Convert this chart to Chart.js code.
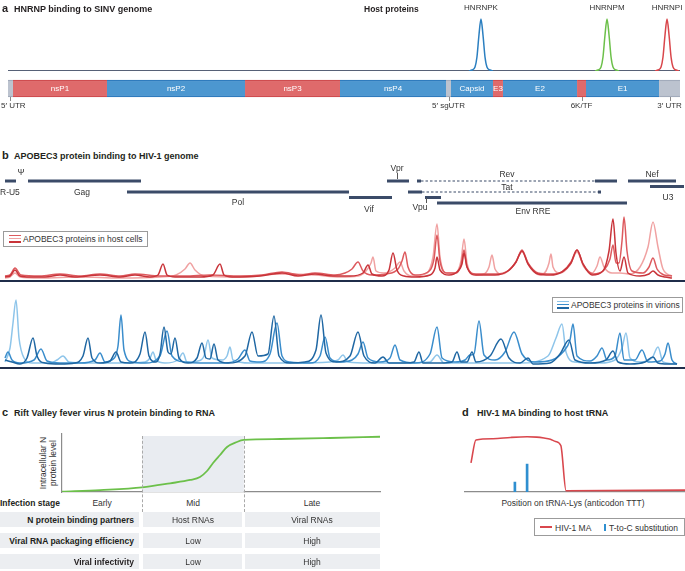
<!DOCTYPE html>
<html>
<head>
<meta charset="utf-8">
<script src="https://cdn.jsdelivr.net/npm/chart.js@4.4.0/dist/chart.umd.min.js"></script>
<style>
  body { margin: 0; background: #fff; }
  #page { position: relative; width: 685px; height: 571px; overflow: hidden;
          font-family: "Liberation Sans", Arial, Helvetica, sans-serif; color: #231f20; }
  canvas { position: absolute; }
  .t { position: absolute; white-space: nowrap; font-size: 8.5px; line-height: 1; color: #333; }
  .b { font-weight: bold; color: #231f20; }
  .h { font-weight: bold; font-size: 9px; color: #231f20; }
  .p { font-weight: bold; font-size: 11px; color: #231f20; }
  .box { position: absolute; background: #eceef1; }
  .leg { position: absolute; border: 1px solid #9b9b9b; background: #fff; box-sizing: border-box; }
  .dash { position: absolute; width: 0; border-left: 1px dashed #a9a9a9; }
</style>
</head>
<body>
<div id="page">
  <canvas id="aPeaks" width="685" height="73" style="left:0px;top:0px"></canvas>
  <canvas id="aGenome" width="685" height="34" style="left:0px;top:78px"></canvas>
  <canvas id="bGenes" width="685" height="40" style="left:0px;top:170px"></canvas>
  <canvas id="bHost" width="685" height="72" style="left:0px;top:212px"></canvas>
  <canvas id="bVirion" width="685" height="75" style="left:0px;top:296px"></canvas>
  <canvas id="cCurve" width="326" height="65" style="left:58px;top:430px"></canvas>
  <canvas id="dTrna" width="221" height="66" style="left:464px;top:428px"></canvas>
</div>
<script>
// ---------- data: panel a (SINV genome, positions in nt) ----------
const sinvSegments = ["5′ UTR", "nsP1", "nsP2", "nsP3", "nsP4", "5′ sgUTR", "Capsid", "E3", "E2", "6K/TF", "E1", "3′ UTR"];
const sinvStart = [0, 87, 1724, 4128, 5782, 7628, 7715, 8446, 8620, 9910, 10066, 11338];
const sinvEnd = [87, 1724, 4128, 5782, 7628, 7715, 8446, 8620, 9910, 10066, 11338, 11703];

const hnrnpNames = ["HNRNPK", "HNRNPM", "HNRNPI"];
const hnrnpkPos = [8028, 8080, 8133, 8167, 8202, 8237, 8272, 8307, 8341, 8394, 8446];
const hnrnpmPos = [10223, 10275, 10328, 10362, 10397, 10432, 10467, 10502, 10536, 10589, 10641];
const hnrnpiPos = [11268, 11320, 11373, 11407, 11442, 11477, 11512, 11547, 11581, 11634, 11686];
const hnrnpSignal = [0, 1, 4, 14, 36, 52, 36, 14, 4, 1, 0];

// ---------- data: panel b (HIV-1 genome, positions in bins) ----------
const exonGene = ["R-U5", "Gag", "Pol", "Vif", "Vpr", "Rev", "Rev", "Tat", "Tat", "Vpu", "Env", "Nef", "U3"];
const exonStart = [5, 28, 127, 349, 387, 417, 595, 408, 598, 425, 437, 628, 650];
const exonEnd = [16, 141, 349, 392, 409, 421, 617, 422, 601, 441, 627, 676, 684];
const exonRow = [0, 0, 2, 3, 0, 0, 0, 2, 2, 3, 4, 0, 1];
const intronGene = ["Rev", "Tat"];
const intronStart = [421, 422];
const intronEnd = [595, 598];
const intronRow = [0, 2];

const hostDark = [[5,4],[10,5],[15,11],[20,5],[30,4],[45,4],[60,6],[75,4],[100,6],[120,4],[135,6],[150,4],[158,6],[163,17],[167,6],[175,4],[200,4],[213,6],[220,17],[224,6],[232,4],[260,5],[282,8],[298,5],[315,7],[333,5],[350,5],[363,8],[368,16],[372,7],[382,5],[389,11],[393,28],[397,11],[404,5],[415,4],[430,6],[435,13],[437,24],[440,11],[449,6],[458,10],[462,17],[464,28],[467,14],[476,6],[495,6],[508,10],[516,19],[522,30],[528,17],[538,7],[550,6],[562,9],[571,18],[577,31],[583,17],[592,6],[603,10],[609,30],[613,62],[616,28],[620,10],[624,24],[628,8],[640,5],[649,7],[653,10],[658,6],[665,4],[672,3]];
const hostMid = [[5,5],[10,6],[15,13],[21,6],[40,5],[60,7],[80,5],[100,7],[120,5],[135,7],[160,5],[185,5],[210,6],[240,5],[262,6],[282,9],[300,6],[315,8],[335,6],[345,8],[352,12],[358,19],[363,10],[372,6],[386,7],[398,12],[402,20],[405,29],[408,14],[415,6],[428,9],[434,22],[437,46],[440,20],[447,8],[456,8],[461,16],[464,31],[467,14],[476,7],[496,7],[509,11],[516,19],[522,31],[528,18],[538,8],[552,7],[563,10],[571,19],[577,31],[583,17],[593,7],[604,11],[610,22],[613,36],[616,18],[619,18],[622,40],[624,64],[627,30],[632,10],[643,8],[649,14],[653,23],[657,12],[664,6],[672,5]];
const hostLight = [[5,3],[10,4],[15,8],[20,4],[40,3],[80,4],[120,3],[160,4],[176,6],[185,12],[190,18],[195,11],[205,5],[240,4],[282,7],[315,6],[340,4],[358,5],[366,10],[371,18],[373,24],[376,10],[384,8],[395,13],[400,19],[404,10],[412,5],[427,8],[433,24],[437,57],[440,24],[446,8],[455,8],[461,20],[464,42],[467,18],[474,6],[484,7],[489,14],[492,26],[495,12],[502,7],[514,16],[522,29],[530,14],[540,6],[546,10],[549,18],[551,27],[553,14],[560,8],[570,16],[577,29],[584,14],[592,8],[597,15],[600,24],[604,14],[612,8],[620,8],[630,7],[640,14],[648,34],[653,59],[658,34],[663,12],[672,5]];

const virionDark = [[5,8],[12,6],[20,4],[27,10],[33,30],[37,12],[45,5],[60,4],[75,5],[83,12],[88,30],[92,10],[100,5],[110,7],[116,16],[121,6],[130,5],[140,14],[145,36],[149,12],[156,6],[160,14],[164,41],[168,16],[171,14],[175,30],[179,10],[188,5],[197,10],[202,25],[206,10],[210,9],[214,24],[218,8],[228,5],[245,12],[252,36],[258,12],[268,14],[274,52],[279,12],[290,5],[305,6],[316,18],[321,53],[326,15],[336,6],[350,12],[358,36],[364,12],[375,5],[383,11],[389,5],[405,5],[414,6],[419,16],[423,5],[440,5],[452,6],[457,16],[461,6],[467,6],[472,16],[476,6],[490,12],[501,29],[509,10],[520,5],[528,10],[533,4],[550,5],[560,14],[569,28],[575,8],[590,5],[606,8],[613,17],[618,6],[630,4],[645,6],[653,11],[658,5],[668,4],[677,4]];
const virionMid = [[5,10],[8,16],[12,8],[20,5],[34,8],[41,19],[47,7],[60,5],[80,5],[95,8],[100,15],[105,6],[112,8],[118,22],[121,53],[124,18],[132,6],[145,5],[160,12],[167,37],[172,12],[185,6],[200,5],[225,5],[238,9],[245,18],[250,7],[260,6],[270,14],[277,45],[282,12],[290,6],[310,5],[320,12],[325,31],[330,10],[340,6],[352,8],[358,14],[363,26],[368,10],[380,6],[390,10],[395,23],[400,8],[415,5],[430,14],[437,41],[442,10],[455,6],[465,8],[470,13],[474,14],[479,47],[484,13],[495,8],[505,16],[514,36],[522,14],[535,6],[552,8],[563,16],[570,28],[573,44],[577,12],[590,7],[597,12],[602,20],[607,8],[615,12],[620,35],[624,8],[635,8],[642,18],[648,6],[660,7],[665,14],[668,25],[672,8],[677,4]];
const virionLight = [[5,6],[10,20],[13,45],[16,68],[19,30],[24,10],[32,5],[50,5],[57,8],[63,12],[69,6],[90,5],[120,5],[145,6],[150,10],[153,16],[156,8],[165,5],[178,8],[183,15],[187,6],[198,7],[204,12],[208,28],[212,10],[222,8],[227,12],[230,21],[233,8],[250,5],[290,5],[330,6],[338,8],[343,13],[348,6],[370,5],[400,5],[430,6],[437,13],[444,5],[480,5],[520,5],[548,12],[556,30],[562,44],[566,16],[575,6],[600,5],[615,8],[622,20],[626,35],[630,10],[640,6],[652,10],[658,21],[663,6],[677,4]];

// ---------- data: panel c (RVFV infection course) ----------
const stageNames = ["Early", "Mid", "Late"];
const stageEnd = [25.2, 57.2, 100];
const nTime = [0, 12, 25.2, 34, 40.3, 43.4, 45.6, 47.5, 49.7, 51.9, 55, 57.2, 68.6, 84.3, 100];
const nLevel = [0.5, 3.4, 8.1, 15, 20.7, 25.9, 36.2, 50, 63.8, 77.6, 86.2, 89.7, 91.4, 93.1, 95.3];
const tableRows = ["N protein binding partners", "Viral RNA packaging efficiency", "Viral infectivity"];
const tableMid = ["Host RNAs", "Low", "Low"];
const tableLate = ["Viral RNAs", "High", "High"];

// ---------- data: panel d (tRNA-Lys) ----------
const trnaPos = [2.4, 4.1, 10, 16, 21.7, 25, 27.5, 29.7, 31.5, 33.3, 35.1, 76];
const maSignal = [47, 84, 86, 88, 89, 88.5, 87, 85, 81.5, 75, 2, 3];
const tcPos = [17.5, 21.7];
const tcCount = [16, 45];

// ---------- styles ----------
const FONT = '"Liberation Sans", Arial, Helvetica, sans-serif';
const segStyle = { "5′ UTR": "utr", nsP1: "red", nsP2: "blue", nsP3: "red", nsP4: "blue", "5′ sgUTR": "utr",
  Capsid: "blue", E3: "red", E2: "blue", "6K/TF": "red", E1: "blue", "3′ UTR": "utr" };
const segFill = { utr: "#bcc3cf", red: "#df6a6b", blue: "#4c97d0" };
const segEdge = { utr: "#a2abbb", red: "#cf4c4f", blue: "#2f7bbd" };
const peakColors = ["#2b7fc0", "#6cc04a", "#d9464b"];
const navy = "#1f2d4a";
const geneColor = "#3b4b68";
const reds = { dark: "#c9343a", mid: "#dd5a5e", light: "#f0a2a2" };
const blues = { dark: "#1f67a3", mid: "#3a8dcc", light: "#8ec5ea" };

Chart.defaults.font.family = FONT;
Chart.defaults.animation = false;
Chart.defaults.responsive = false;
Chart.defaults.events = [];
Chart.defaults.plugins.legend.display = false;
Chart.defaults.plugins.tooltip.enabled = false;
Chart.defaults.elements.point.radius = 0;

const page = document.getElementById("page");
function put(text, x, y, cls, align) {
  const el = document.createElement("div");
  el.className = "t " + (cls || "");
  el.textContent = text;
  el.style.left = x + "px";
  el.style.top = y + "px";
  const tx = align === "c" ? "-50%" : align === "r" ? "-100%" : "0";
  el.style.transform = "translate(" + tx + ",-50%)";
  page.appendChild(el);
  return el;
}
function block(x, y, w, h, cls, css) {
  const el = document.createElement("div");
  el.className = cls;
  el.style.left = x + "px";
  el.style.top = y + "px";
  el.style.width = w + "px";
  el.style.height = h + "px";
  if (css) Object.assign(el.style, css);
  page.appendChild(el);
  return el;
}
const pts = (xs, ys) => xs.map((x, i) => ({ x: x, y: ys[i] }));
const pairs = arr => arr.map(p => ({ x: p[0], y: p[1] }));
function hiddenAxes(xMin, xMax, yMin, yMax) {
  return {
    x: { type: "linear", min: xMin, max: xMax, display: false },
    y: { type: "linear", min: yMin, max: yMax, display: false }
  };
}
function baselineAxes(xMin, xMax, yMin, yMax, color, width) {
  return {
    x: { type: "linear", min: xMin, max: xMax, ticks: { display: false },
         grid: { display: false, drawTicks: false }, border: { color: color, width: width } },
    y: { type: "linear", min: yMin, max: yMax, display: false }
  };
}
function trace(label, data, color) {
  return { label: label, data: pairs(data), borderColor: color, borderWidth: 1.5,
           cubicInterpolationMode: "monotone" };
}

// ---------- panel a ----------
const peakLabelPlugin = {
  id: "peakLabels",
  afterDatasetsDraw(chart) {
    const ctx = chart.ctx;
    ctx.save();
    ctx.font = "8px " + FONT;
    ctx.fillStyle = "#333";
    ctx.textAlign = "center";
    ctx.textBaseline = "middle";
    chart.data.datasets.forEach((ds, i) => {
      if (!ds.peakLabel) return;
      const els = chart.getDatasetMeta(i).data;
      let top = els[0];
      els.forEach(e => { if (e.y < top.y) top = e; });
      ctx.fillText(ds.label, top.x, 8);
    });
    ctx.restore();
  }
};
new Chart("aPeaks", {
  type: "line",
  data: {
    datasets: [
      { label: hnrnpNames[0], peakLabel: true, data: pts(hnrnpkPos, hnrnpSignal), borderColor: peakColors[0], borderWidth: 1.5, cubicInterpolationMode: "monotone" },
      { label: hnrnpNames[1], peakLabel: true, data: pts(hnrnpmPos, hnrnpSignal), borderColor: peakColors[1], borderWidth: 1.5, cubicInterpolationMode: "monotone" },
      { label: hnrnpNames[2], peakLabel: true, data: pts(hnrnpiPos, hnrnpSignal), borderColor: peakColors[2], borderWidth: 1.5, cubicInterpolationMode: "monotone" },
      { label: "genome", data: pts([sinvStart[0], sinvEnd[sinvEnd.length - 1]], [0, 0]), borderColor: navy, borderWidth: 1.5 }
    ]
  },
  options: {
    layout: { padding: { top: 14, bottom: 2, left: 0, right: 0 } },
    scales: hiddenAxes(-139, 11790, 0, 57)
  },
  plugins: [peakLabelPlugin]
});

const segLabelPlugin = {
  id: "segLabels",
  afterDatasetsDraw(chart) {
    const ctx = chart.ctx;
    ctx.save();
    ctx.font = "8px " + FONT;
    ctx.textBaseline = "middle";
    chart.data.datasets.forEach((ds, i) => {
      const bar = chart.getDatasetMeta(i).data[0];
      const left = Math.min(bar.x, bar.base), right = Math.max(bar.x, bar.base);
      const cx = (left + right) / 2;
      const w = ctx.measureText(ds.label).width;
      if (w <= right - left + 2) {
        ctx.fillStyle = "#ffffff";
        ctx.textAlign = "center";
        ctx.fillText(ds.label, cx, bar.y + 0.5);
      } else {
        const bottom = bar.y + bar.height / 2;
        ctx.strokeStyle = "#8a8a8a";
        ctx.lineWidth = 1;
        ctx.beginPath();
        ctx.moveTo(Math.round(cx) + 0.5, bottom);
        ctx.lineTo(Math.round(cx) + 0.5, bottom + 4);
        ctx.stroke();
        ctx.fillStyle = "#333";
        ctx.textAlign = "center";
        ctx.fillText(ds.label, Math.max(cx, w / 2 + 1), bottom + 9);
      }
    });
    ctx.restore();
  }
};
new Chart("aGenome", {
  type: "bar",
  data: {
    labels: ["SINV"],
    datasets: sinvSegments.map((name, i) => ({
      label: name,
      data: [[sinvStart[i], sinvEnd[i]]],
      backgroundColor: segFill[segStyle[name]],
      borderColor: segEdge[segStyle[name]],
      borderWidth: { top: 1.5, bottom: 1.5, left: 0, right: 0 },
      borderSkipped: false,
      barThickness: 17,
      grouped: false
    }))
  },
  options: {
    indexAxis: "y",
    layout: { padding: { top: 0, bottom: 13, left: 0, right: 0 } },
    scales: {
      x: { type: "linear", min: -139, max: 11790, display: false },
      y: { display: false }
    }
  },
  plugins: [segLabelPlugin]
});

// ---------- panel b ----------
const geneSets = exonGene.map((g, i) => ({
  label: g,
  data: pts([exonStart[i], exonEnd[i]], [exonRow[i], exonRow[i]]),
  borderColor: geneColor, borderWidth: 3, borderCapStyle: "butt"
})).concat(intronGene.map((g, i) => ({
  label: g + " intron",
  data: pts([intronStart[i], intronEnd[i]], [intronRow[i], intronRow[i]]),
  borderColor: geneColor, borderWidth: 1.1, borderDash: [2.5, 2]
})));
new Chart("bGenes", {
  type: "line",
  data: { datasets: geneSets },
  options: {
    layout: { padding: 0 },
    scales: {
      x: { type: "linear", min: 0, max: 685, display: false },
      y: { type: "linear", min: -2, max: 5.27, reverse: true, display: false }
    }
  }
});

// first dataset is drawn on top
new Chart("bHost", {
  type: "line",
  data: {
    datasets: [
      trace("host dark", hostDark, reds.dark),
      trace("host mid", hostMid, reds.mid),
      trace("host light", hostLight, reds.light)
    ]
  },
  options: {
    layout: { padding: { top: 0, bottom: 3, left: 0, right: 0 } },
    scales: baselineAxes(0, 685, 0, 69, navy, 2)
  }
});

new Chart("bVirion", {
  type: "line",
  data: {
    datasets: [
      trace("virion dark", virionDark, blues.dark),
      trace("virion mid", virionMid, blues.mid),
      trace("virion light", virionLight, blues.light)
    ]
  },
  options: {
    layout: { padding: { top: 0, bottom: 3, left: 0, right: 0 } },
    scales: baselineAxes(0, 685, 0, 72, navy, 2)
  }
});

// ---------- panel c ----------
const cChart = new Chart("cCurve", {
  type: "line",
  data: {
    datasets: [
      { label: "Intracellular N protein level", data: pts(nTime, nLevel), borderColor: "#6cc04a",
        borderWidth: 1.8, cubicInterpolationMode: "monotone" },
      { label: "mid stage", data: pts([stageEnd[0], stageEnd[1]], [96.5, 96.5]), fill: "origin",
        backgroundColor: "#e9ecf1", borderWidth: 0 }
    ]
  },
  options: {
    layout: { padding: { top: 4, bottom: 3, left: 4, right: 4 } },
    scales: {
      x: { type: "linear", min: 0, max: 100, ticks: { display: false },
           grid: { display: false, drawTicks: false }, border: { color: "#8c8c8c", width: 1.2 } },
      y: { type: "linear", min: 0, max: 100, ticks: { display: false },
           grid: { display: false, drawTicks: false }, border: { color: "#8c8c8c", width: 1.2 } }
    }
  }
});

// ---------- panel d ----------
new Chart("dTrna", {
  type: "line",
  data: {
    datasets: [
      { type: "bar", label: "T-to-C substitution", data: pts(tcPos, tcCount), backgroundColor: "#2f8fd0", barThickness: 2 },
      { label: "HIV-1 MA", data: pts(trnaPos, maSignal), borderColor: "#d9474d", borderWidth: 1.6, cubicInterpolationMode: "monotone" }
    ]
  },
  options: {
    layout: { padding: { top: 2, bottom: 2, left: 0, right: 0 } },
    scales: {
      x: { type: "linear", min: 0, max: 76, offset: false, ticks: { display: false },
           grid: { display: false, drawTicks: false }, border: { color: "#8c8c8c", width: 1.2 } },
      y: { type: "linear", min: 0, max: 100, display: false }
    }
  }
});

// ---------- text, legends, table ----------
put("a", 2, 8, "p");
put("HNRNP binding to SINV genome", 14, 8.5, "h");
put("Host proteins", 364, 8.5, "b").style.fontSize = "8.5px";

put("b", 2, 155, "p");
put("APOBEC3 protein binding to HIV-1 genome", 14, 155.5, "h");
put("R-U5", 0, 191.5);
put("Ψ", 21, 172, "", "c");
put("Gag", 82, 192, "", "c");
put("Pol", 238, 202, "", "c");
put("Vif", 369, 209, "", "c");
put("Vpr", 397, 168, "", "c");
put("Rev", 507, 174, "", "c");
put("Tat", 507, 186.5, "", "c");
put("Vpu", 420, 207, "", "c");
put("Env RRE", 533, 211, "", "c");
put("Nef", 652, 174, "", "c");
put("U3", 668, 196.5, "", "c");
block(397, 173, 1, 6, "", { position: "absolute", background: "#555" });
block(426, 198, 1, 5, "", { position: "absolute", background: "#555" });

block(3, 231, 145, 16, "leg");
block(9, 234.5, 12, 1.5, "", { position: "absolute", background: reds.mid });
block(9, 237.8, 12, 1.5, "", { position: "absolute", background: reds.light });
block(9, 241.1, 12, 1.5, "", { position: "absolute", background: reds.dark });
put("APOBEC3 proteins in host cells", 23, 239);

block(552, 297, 131, 16, "leg");
block(557, 300.5, 12, 1.5, "", { position: "absolute", background: blues.light });
block(557, 303.8, 12, 1.5, "", { position: "absolute", background: blues.mid });
block(557, 307.1, 12, 1.5, "", { position: "absolute", background: blues.dark });
put("APOBEC3 proteins in virions", 571, 305);

put("c", 2, 412, "p");
put("Rift Valley fever virus N protein binding to RNA", 14, 412.5, "h");
const yl = put("Intracellular N", 43, 463, "", "c");
yl.style.transform = "translate(-50%,-50%) rotate(-90deg)";
const yl2 = put("protein level", 52.5, 463, "", "c");
yl2.style.transform = "translate(-50%,-50%) rotate(-90deg)";

const xs = cChart.scales.x;
const cLeft = 58;
let prev = 0;
stageNames.forEach((s, i) => {
  const mid = cLeft + xs.getPixelForValue((prev + stageEnd[i]) / 2);
  put(s, mid, 503, "", "c");
  prev = stageEnd[i];
});
[stageEnd[0], stageEnd[1]].forEach(v => {
  block(Math.round(cLeft + xs.getPixelForValue(v)), 436, 0, 76, "dash");
});
put("Infection stage", 0, 503, "b");
const colL = Math.round(cLeft + xs.getPixelForValue(stageEnd[0]));
const colM = Math.round(cLeft + xs.getPixelForValue(stageEnd[1]));
const colR = Math.round(cLeft + xs.getPixelForValue(stageEnd[2]));
tableRows.forEach((r, i) => {
  const top = 512 + i * 21;
  block(0, top, colL - 3, 15, "box");
  block(colL + 1, top, colM - colL - 3, 15, "box");
  block(colM + 1, top, colR - colM - 1, 15, "box");
  put(r, colL - 8, top + 8, "b", "r");
  put(tableMid[i], (colL + colM) / 2, top + 8, "", "c");
  put(tableLate[i], (colM + colR) / 2, top + 8, "", "c");
});

put("d", 462, 412, "p");
put("HIV-1 MA binding to host tRNA", 477, 412.5, "h");
put("Position on tRNA-Lys (anticodon TTT)", 573, 502.5, "", "c");
block(534, 518, 151, 18, "leg");
block(540, 526, 12, 2, "", { position: "absolute", background: "#d9474d" });
put("HIV-1 MA", 555, 527.5);
block(604, 524, 2, 7, "", { position: "absolute", background: "#2f8fd0" });
put("T-to-C substitution", 609, 527.5);
</script>
</body>
</html>
